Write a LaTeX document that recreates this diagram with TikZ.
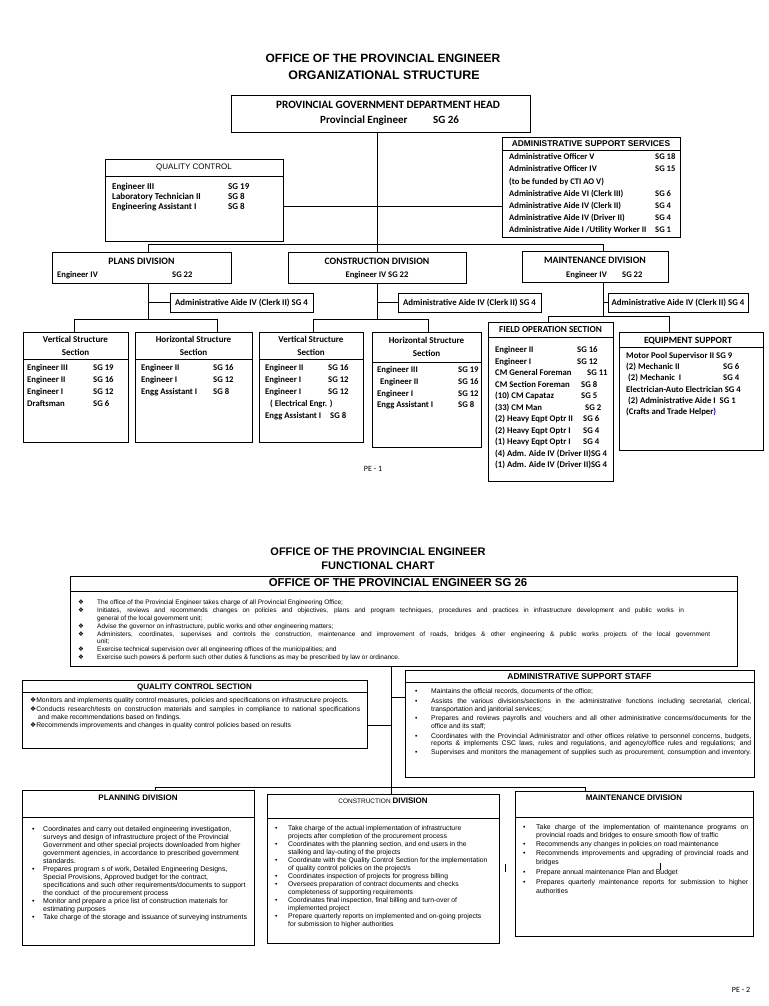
\documentclass[tikz,border=0pt]{standalone}
\usepackage{fontspec}
\setmainfont{Carlito}
\newfontfamily\arial{Liberation Sans}
\newfontfamily\djv{DejaVu Sans}
\usetikzlibrary{calc}
\newcounter{tn}
\newcommand\tx[4][]{\stepcounter{tn}\node[#1] (t\arabic{tn}) at (#2,#3) {#4};}
\newcommand\dia{{\djv ❖}}
\tikzset{
  bx/.style={draw, line width=0.9pt, inner sep=0pt, anchor=center},
  ln/.style={line width=0.9pt},
  lt/.style={anchor=west, inner sep=0pt, text height=0.72em, text depth=0.2em},
  ct/.style={anchor=center, inner sep=0pt, text height=0.72em, text depth=0.2em},
  rq/.style={lt, font=\bfseries\fontsize{9}{10}\selectfont},
  rw/.style={lt, font=\bfseries\fontsize{8.6}{9}\selectfont},
  rs/.style={lt, font=\bfseries\fontsize{8.7}{9}\selectfont},
  hs/.style={ct, font=\bfseries\fontsize{9}{10}\selectfont},
  dv/.style={ct, font=\bfseries\fontsize{9.8}{11}\selectfont},
  ad/.style={ct, font=\bfseries\fontsize{8.8}{10}\selectfont},
  fttl/.style={ct, font=\arial\bfseries\fontsize{11}{12}\selectfont},
  fhd/.style={ct, font=\arial\bfseries\fontsize{8}{9}\selectfont},
  ftop/.style={lt, font=\arial\fontsize{6.5}{7}\selectfont},
  fqc/.style={lt, font=\arial\fontsize{6.8}{7}\selectfont},
  fad/.style={lt, font=\arial\fontsize{6.8}{7}\selectfont},
  fpl/.style={lt, font=\arial\fontsize{7}{8}\selectfont},
  fco/.style={lt, font=\arial\fontsize{6.8}{8}\selectfont},
  fmn/.style={lt, font=\arial\fontsize{6.9}{8}\selectfont},
}
\begin{document}
\begin{tikzpicture}[x=1pt,y=-1pt]
\fill[white] (0,0) rectangle (768,1006);
\useasboundingbox (0,0) rectangle (768,1006);

% ================= ORGANIZATIONAL STRUCTURE =================
\tx[ct, font=\arial\bfseries\fontsize{12}{13}\selectfont]{383}{60}{OFFICE OF THE PROVINCIAL ENGINEER}
\tx[ct, font=\arial\bfseries\fontsize{12.4}{14}\selectfont]{384}{77}{ORGANIZATIONAL STRUCTURE}

\node[bx, minimum width=299pt, minimum height=37pt] (head) at (380.5,113.5) {};
\node[bx, minimum width=178pt, minimum height=82pt] (qc) at (194,200) {};
\node[bx, minimum width=178pt, minimum height=100pt] (admin) at (591,187) {};
\node[bx, minimum width=179pt, minimum height=31pt] (plans) at (141.5,267.5) {};
\node[bx, minimum width=178pt, minimum height=31pt] (constr) at (377,267.5) {};
\node[bx, minimum width=146pt, minimum height=31pt] (maint) at (595,266.5) {};
\node[bx, minimum width=143pt, minimum height=19pt] (aide1) at (241.5,302.5) {};
\node[bx, minimum width=143pt, minimum height=19pt] (aide2) at (469.5,302.5) {};
\node[bx, minimum width=140pt, minimum height=19pt] (aide3) at (678,302.5) {};
\node[bx, minimum width=105pt, minimum height=110pt] (sec1) at (75.5,387) {};
\node[bx, minimum width=117pt, minimum height=110pt] (sec2) at (193.5,387) {};
\node[bx, minimum width=104pt, minimum height=110pt] (sec3) at (311,387) {};
\node[bx, minimum width=109pt, minimum height=115pt] (sec4) at (426.5,389.5) {};
\node[bx, minimum width=125pt, minimum height=159pt] (field) at (550.5,401.5) {};
\node[bx, minimum width=144pt, minimum height=118pt] (equip) at (691,391) {};

% header rules
\draw[ln] ([yshift=-18pt]qc.north west) -- ([yshift=-18pt]qc.north east);
\draw[ln] ([yshift=-14pt]admin.north west) -- ([yshift=-14pt]admin.north east);
\draw[ln] ([yshift=-28pt]sec1.north west) -- ([yshift=-28pt]sec1.north east);
\draw[ln] ([yshift=-28pt]sec2.north west) -- ([yshift=-28pt]sec2.north east);
\draw[ln] ([yshift=-28pt]sec3.north west) -- ([yshift=-28pt]sec3.north east);
\draw[ln] ([yshift=-31pt]sec4.north west) -- ([yshift=-31pt]sec4.north east);
\draw[ln] ([yshift=-16pt]field.north west) -- ([yshift=-16pt]field.north east);
\draw[ln] ([yshift=-16pt]equip.north west) -- ([yshift=-16pt]equip.north east);

% connectors
\draw[ln] (constr.north |- head.south) -- (constr.north);
\draw[ln] (qc.east |- 0,206) -- (admin.west |- 0,206);
\coordinate (b1) at (148,244);
\coordinate (b2) at (603,244);
\draw[ln] (b1 |- plans.north) -- (b1) -- (b2) -- (b2 |- maint.north);
\coordinate (p1) at (74,319);
\coordinate (p2) at (217,319);
\draw[ln] (b1 |- plans.south) -- (b1 |- p1);
\draw[ln] (p1 |- sec1.north) -- (p1) -- (p2) -- (p2 |- sec2.north);
\draw[ln] (b1 |- aide1.west) -- (aide1.west);
\coordinate (c1) at (313,319);
\coordinate (c2) at (428,319);
\draw[ln] (constr.south) -- (constr.south |- c1);
\draw[ln] (c1 |- sec3.north) -- (c1) -- (c2) -- (c2 |- sec4.north);
\draw[ln] (constr.south |- aide2.west) -- (aide2.west);
\coordinate (m1) at (548,316);
\coordinate (m2) at (669,316);
\draw[ln] (b2 |- maint.south) -- (b2 |- m1);
\draw[ln] (m1 |- field.north) -- (m1) -- (m2) -- (m2 |- equip.north);
\draw[ln] (b2 |- aide3.west) -- (aide3.west);

% head text
\tx[ct, font=\bfseries\fontsize{11.2}{12}\selectfont]{388}{106}{PROVINCIAL GOVERNMENT DEPARTMENT HEAD}
\tx[lt, font=\bfseries\fontsize{11}{12}\selectfont]{320}{121}{Provincial Engineer}
\tx[lt, font=\bfseries\fontsize{11}{12}\selectfont]{433}{121}{SG 26}

% QC
\tx[ct, font=\arial\fontsize{8}{9}\selectfont]{194}{167}{QUALITY CONTROL}
\tx[rq]{112}{187}{Engineer III}\tx[rq]{228}{187}{SG 19}
\tx[rq]{112}{197}{Laboratory Technician II}\tx[rq]{228}{197}{SG 8}
\tx[rq]{112}{207}{Engineering Assistant I}\tx[rq]{228}{207}{SG 8}

% Admin support services
\tx[ct, font=\arial\bfseries\fontsize{8.4}{9}\selectfont]{591}{144}{ADMINISTRATIVE SUPPORT SERVICES}
\tx[rw]{509}{157}{Administrative Officer V}\tx[rw]{655}{157}{SG 18}
\tx[rw]{509}{169}{Administrative Officer IV}\tx[rw]{655}{169}{SG 15}
\tx[rw]{509}{182}{(to be funded by CTI AO V)}
\tx[rw]{509}{194}{Administrative Aide VI (Clerk III)}\tx[rw]{655}{194}{SG 6}
\tx[rw]{509}{206}{Administrative Aide IV (Clerk II)}\tx[rw]{655}{206}{SG 4}
\tx[rw]{509}{218}{Administrative Aide IV (Driver II)}\tx[rw]{655}{218}{SG 4}
\tx[rw]{509}{230}{Administrative Aide I /Utility Worker II}\tx[rw]{655}{230}{SG 1}

% Divisions
\tx[dv]{141.5}{262}{PLANS DIVISION}
\tx[rw]{57}{275}{Engineer IV}\tx[rw]{172}{275}{SG 22}
\tx[dv]{377}{262}{CONSTRUCTION DIVISION}
\tx[ct, font=\bfseries\fontsize{8.6}{9}\selectfont]{377}{275}{Engineer IV SG 22}
\tx[dv]{595}{261}{MAINTENANCE DIVISION}
\tx[rw]{566}{275}{Engineer IV}\tx[rw]{622}{275}{SG 22}

\tx[ad]{241.5}{302.5}{Administrative Aide IV (Clerk II) SG 4}
\tx[ad]{469.5}{302.5}{Administrative Aide IV (Clerk II) SG 4}
\tx[ad]{678}{302.5}{Administrative Aide IV (Clerk II) SG 4}

% Sections
\tx[hs]{75.5}{340}{Vertical Structure}\tx[hs]{75.5}{353}{Section}
\tx[rs]{27}{368}{Engineer III}\tx[rs]{93}{368}{SG 19}
\tx[rs]{27}{380}{Engineer II}\tx[rs]{93}{380}{SG 16}
\tx[rs]{27}{392}{Engineer I}\tx[rs]{93}{392}{SG 12}
\tx[rs]{27}{404}{Draftsman}\tx[rs]{93}{404}{SG 6}

\tx[hs]{193.5}{340}{Horizontal Structure}\tx[hs]{193.5}{353}{Section}
\tx[rs]{141}{368}{Engineer II}\tx[rs]{213}{368}{SG 16}
\tx[rs]{141}{380}{Engineer I}\tx[rs]{213}{380}{SG 12}
\tx[rs]{141}{392}{Engg Assistant I}\tx[rs]{213}{392}{SG 8}

\tx[hs]{311}{340}{Vertical Structure}\tx[hs]{311}{353}{Section}
\tx[rs]{265}{368}{Engineer II}\tx[rs]{328}{368}{SG 16}
\tx[rs]{265}{380}{Engineer I}\tx[rs]{328}{380}{SG 12}
\tx[rs]{265}{392}{Engineer I}\tx[rs]{328}{392}{SG 12}
\tx[rs]{270}{404}{( Electrical Engr. )}
\tx[rs]{265}{416}{Engg Assistant I}\tx[rs]{330}{416}{SG 8}

\tx[hs]{426.5}{341}{Horizontal Structure}\tx[hs]{426.5}{354}{Section}
\tx[rs]{377}{370}{Engineer III}\tx[rs]{458}{370}{SG 19}
\tx[rs]{380}{382}{Engineer II}\tx[rs]{458}{382}{SG 16}
\tx[rs]{377}{394}{Engineer I}\tx[rs]{458}{394}{SG 12}
\tx[rs]{377}{405}{Engg Assistant I}\tx[rs]{458}{405}{SG 8}

% Field operation
\tx[ct, font=\bfseries\fontsize{9.2}{10}\selectfont]{550.5}{330}{FIELD OPERATION SECTION}
\tx[rs]{495}{350}{Engineer II}\tx[rs]{577}{350}{SG 16}
\tx[rs]{495}{361.5}{Engineer I}\tx[rs]{577}{361.5}{SG 12}
\tx[rs]{495}{373}{CM General Foreman}\tx[rs]{587}{373}{SG 11}
\tx[rs]{495}{384.5}{CM Section Foreman}\tx[rs]{581}{384.5}{SG 8}
\tx[rs]{495}{396}{(10) CM Capataz}\tx[rs]{581}{396}{SG 5}
\tx[rs]{495}{407.5}{(33) CM Man}\tx[rs]{585}{407.5}{SG 2}
\tx[rs]{495}{419}{(2) Heavy Eqpt Optr II}\tx[rs]{583}{419}{SG 6}
\tx[rs]{495}{430.5}{(2) Heavy Eqpt Optr I}\tx[rs]{583}{430.5}{SG 4}
\tx[rs]{495}{442}{(1) Heavy Eqpt Optr I}\tx[rs]{583}{442}{SG 4}
\tx[rs]{495}{453.5}{(4) Adm. Aide IV (Driver II)SG 4}
\tx[rs]{495}{465}{(1) Adm. Aide IV (Driver II)SG 4}

% Equipment support
\tx[ct, font=\bfseries\fontsize{9.5}{10}\selectfont]{688}{341}{EQUIPMENT SUPPORT}
\tx[rs]{626}{356}{Motor Pool Supervisor II SG 9}
\tx[rs]{626}{367}{(2) Mechanic II}\tx[rs]{723}{367}{SG 6}
\tx[rs]{628}{378}{(2) Mechanic\ \ I}\tx[rs]{723}{378}{SG 4}
\tx[rs]{626}{389.5}{Electrician-Auto Electrician SG 4}
\tx[rs]{628}{401}{(2) Administrative Aide I\ \ SG 1}
\tx[rs]{626}{412}{(Crafts and Trade Helper\textcolor{blue}{)}}

\tx[ct, font=\fontsize{8}{9}\selectfont]{373}{469}{PE - 1}

% ================= FUNCTIONAL CHART =================
\tx[fttl]{378}{553}{OFFICE OF THE PROVINCIAL ENGINEER}
\tx[fttl]{378}{567}{FUNCTIONAL CHART}

\node[bx, minimum width=667pt, minimum height=90pt] (ftop) at (403.5,621) {};
\node[bx, minimum width=345pt, minimum height=68pt] (qcs) at (194.5,714) {};
\node[bx, minimum width=349pt, minimum height=107pt] (adms) at (579.5,723.5) {};
\node[bx, minimum width=232pt, minimum height=155pt] (plan) at (138,867.5) {};
\node[bx, minimum width=232pt, minimum height=149pt] (cons) at (383,868.5) {};
\node[bx, minimum width=238pt, minimum height=145pt] (mnt) at (634,863.5) {};

\draw[ln] ([yshift=-16pt]ftop.north west) -- ([yshift=-16pt]ftop.north east);
\draw[ln] ([yshift=-13pt]qcs.north west) -- ([yshift=-13pt]qcs.north east);
\draw[ln] ([yshift=-13pt]adms.north west) -- ([yshift=-13pt]adms.north east);
\draw[ln] ([yshift=-28pt]plan.north west) -- ([yshift=-28pt]plan.north east);
\draw[ln] ([yshift=-25pt]cons.north west) -- ([yshift=-25pt]cons.north east);
\draw[ln] ([yshift=-27pt]mnt.north west) -- ([yshift=-27pt]mnt.north east);

\coordinate (f1) at (391,787);
\coordinate (f0) at (155,787);
\coordinate (f2) at (585,787);
\draw[ln] (f1 |- ftop.south) -- (f1 |- cons.north);
\draw[ln] (qcs.east |- 0,725) -- (f1 |- 0,725);
\draw[ln] (adms.west |- 0,697) -- (f1 |- 0,697);
\draw[ln] (f0 |- plan.north) -- (f0) -- (f2) -- (f2 |- mnt.north);

\tx[ct, font=\arial\bfseries\fontsize{11.4}{12}\selectfont]{398}{584}{OFFICE OF THE PROVINCIAL ENGINEER SG 26}
\tx[ftop]{78}{602}{\dia}\tx[ftop]{97}{602}{The office of the Provincial Engineer takes charge of all Provincial Engineering Office;}
\tx[ftop]{78}{610}{\dia}\tx[ftop]{97}{610}{\makebox[587pt][s]{Initiates, reviews and recommends changes on policies and objectives, plans and program techniques, procedures and practices in infrastructure development and public works in}}
\tx[ftop]{97}{617.5}{general of the local government unit;}
\tx[ftop]{78}{625.5}{\dia}\tx[ftop]{97}{625.5}{Advise the governor on infrastructure, public works and other engineering matters;}
\tx[ftop]{78}{633.5}{\dia}\tx[ftop]{97}{633.5}{\makebox[613pt][s]{Administers, coordinates, supervises and controls the construction, maintenance and improvement of roads, bridges \& other engineering \& public works projects of the local government}}
\tx[ftop]{97}{641}{unit;}
\tx[ftop]{78}{649}{\dia}\tx[ftop]{97}{649}{Exercise technical supervision over all engineering offices of the municipalities; and}
\tx[ftop]{78}{657}{\dia}\tx[ftop]{97}{657}{Exercise such powers \& perform such other duties \& functions as may be prescribed by law or ordinance.}

% QC section
\tx[fhd]{194.5}{687}{QUALITY CONTROL SECTION}
\tx[fqc]{30}{700}{\dia Monitors and implements quality control measures, policies and specifications on infrastructure projects.}
\tx[fqc]{30}{708.5}{\makebox[330pt][s]{\dia Conducts research/tests on construction materials and samples in compliance to national specifications}}
\tx[fqc]{38}{716.5}{and make recommendations based on findings.}
\tx[fqc]{30}{725}{\dia Recommends improvements and changes in quality control policies based on results}

% Admin support staff
\tx[ct, font=\arial\bfseries\fontsize{8.5}{9}\selectfont]{579.5}{677}{ADMINISTRATIVE SUPPORT STAFF}
\tx[fad]{415}{691}{•}\tx[fad]{431}{691}{Maintains the official records, documents of the office;}
\tx[fad]{415}{701}{•}\tx[fad]{431}{701}{\makebox[320pt][s]{Assists the various divisions/sections in the administrative functions including secretarial, clerical,}}
\tx[fad]{431}{708.5}{transportation and janitorial services;}
\tx[fad]{415}{718}{•}\tx[fad]{431}{718}{\makebox[320pt][s]{Prepares and reviews payrolls and vouchers and all other administrative concerns/documents for the}}
\tx[fad]{431}{726}{office and its staff;}
\tx[fad]{415}{735.5}{•}\tx[fad]{431}{735.5}{\makebox[320pt][s]{Coordinates with the Provincial Administrator and other offices relative to personnel concerns, budgets,}}
\tx[fad]{431}{743}{\makebox[320pt][s]{reports \& implements CSC laws, rules and regulations, and agency/office rules and regulations; and}}
\tx[fad]{415}{751.5}{•}\tx[fad]{431}{751.5}{\makebox[320pt][s]{Supervises and monitors the management of supplies such as procurement, consumption and inventory.}}

% Planning division
\tx[fhd]{138}{798}{PLANNING DIVISION}
\tx[fpl]{32}{829}{•}\tx[fpl]{43}{829}{Coordinates and carry out detailed engineering investigation,}
\tx[fpl]{43}{837}{surveys and design of infrastructure project of the Provincial}
\tx[fpl]{43}{845}{Government and other special projects downloaded from higher}
\tx[fpl]{43}{853}{government agencies, in accordance to prescribed government}
\tx[fpl]{43}{861}{standards.}
\tx[fpl]{32}{869}{•}\tx[fpl]{43}{869}{Prepares program s of work, Detailed Engineering Designs,}
\tx[fpl]{43}{877}{Special Provisions, Approved budget for the contract,}
\tx[fpl]{43}{885}{specifications and such other requirements/documents to support}
\tx[fpl]{43}{893}{the conduct\ \ of the procurement process}
\tx[fpl]{32}{901}{•}\tx[fpl]{43}{901}{Monitor and prepare a price list of construction materials for}
\tx[fpl]{43}{909}{estimating purposes}
\tx[fpl]{32}{917}{•}\tx[fpl]{43}{917}{Take charge of the storage and issuance of surveying instruments}

% Construction division
\tx[ct]{383}{801}{{\arial\fontsize{6.5}{7}\selectfont CONSTRUCTION }{\arial\bfseries\fontsize{8}{9}\selectfont DIVISION}}
\tx[fco]{275}{828}{•}\tx[fco]{288}{828}{Take charge of the actual implementation of infrastructure}
\tx[fco]{288}{836}{projects after completion of the procurement process}
\tx[fco]{275}{844}{•}\tx[fco]{288}{844}{Coordinates with the planning section, and end users in the}
\tx[fco]{288}{852}{stalking and lay-outing of the projects}
\tx[fco]{275}{860}{•}\tx[fco]{288}{860}{Coordinate with the Quality Control Section for the implementation}
\tx[fco]{288}{868}{of quality control policies on the project/s}
\tx[fco]{275}{876}{•}\tx[fco]{288}{876}{Coordinates inspection of projects for progress billing}
\tx[fco]{275}{884}{•}\tx[fco]{288}{884}{Oversees preparation of contract documents and checks}
\tx[fco]{288}{892}{completeness of supporting requirements}
\tx[fco]{275}{900}{•}\tx[fco]{288}{900}{Coordinates final inspection, final billing and turn-over of}
\tx[fco]{288}{908}{implemented project}
\tx[fco]{275}{916}{•}\tx[fco]{288}{916}{Prepare quarterly reports on implemented and on-going projects}
\tx[fco]{288}{924}{for submission to higher authorities}

% Maintenance division
\tx[fhd]{634}{798}{MAINTENANCE DIVISION}
\tx[fmn]{523}{827}{•}\tx[fmn]{536}{827}{\makebox[212pt][s]{Take charge of the implementation of maintenance programs on}}
\tx[fmn]{536}{835}{provincial roads and bridges to ensure smooth flow of traffic}
\tx[fmn]{523}{844}{•}\tx[fmn]{536}{844}{Recommends any changes in policies on road maintenance}
\tx[fmn]{523}{853}{•}\tx[fmn]{536}{853}{\makebox[212pt][s]{Recommends improvements and upgrading of provincial roads and}}
\tx[fmn]{536}{862}{bridges}
\tx[fmn]{523}{872}{•}\tx[fmn]{536}{872}{Prepare annual maintenance Plan and Budget}
\tx[fmn]{523}{882}{•}\tx[fmn]{536}{882}{\makebox[212pt][s]{Prepares quarterly maintenance reports for submission to higher}}
\tx[fmn]{536}{891}{authorities}

% stray marks
\draw[line width=0.8pt] (505,864) -- (505,872);
\draw[line width=0.6pt] (660,863) -- (660,870);

\tx[ct, font=\fontsize{8}{9}\selectfont]{741}{990}{PE - 2}
\end{tikzpicture}
\end{document}
